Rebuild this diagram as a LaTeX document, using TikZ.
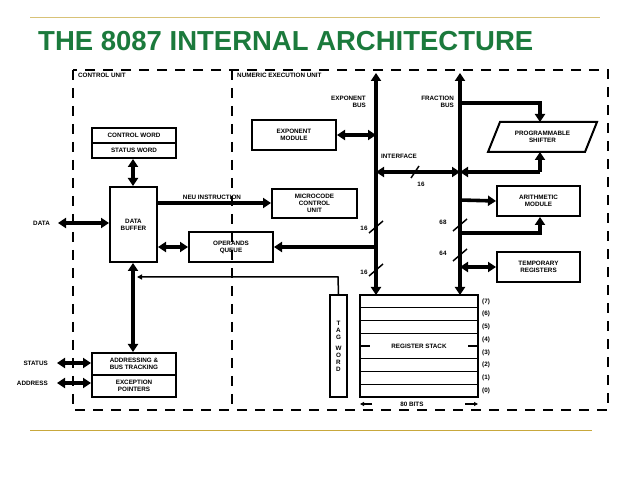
\documentclass[tikz,border=0pt]{standalone}
\usepackage{fontspec}
\setmainfont{Liberation Sans}
\usetikzlibrary{arrows.meta,shapes.geometric}
\definecolor{ttl}{HTML}{1B7A3C}
\definecolor{gold}{HTML}{C8A83C}
\begin{document}
\begin{tikzpicture}[x=1pt,y=-1pt,
  lbl/.style={font=\bfseries\fontsize{6.3}{7}\selectfont,align=center,inner sep=0pt},
  blk/.style={draw,line width=2pt,lbl},
  bus/.style={line width=3.6pt},
  thin/.style={line width=1.5pt},
  tip/.style={-{Triangle[length=8pt,width=10pt]}},
  dtip/.style={{Triangle[length=8pt,width=10pt]}-{Triangle[length=8pt,width=10pt]}},
  dsh/.style={line width=1.4pt,dash pattern=on 10pt off 8pt}]
\useasboundingbox (0,0) rectangle (638,478);
\draw[gold!70,line width=0.8pt] (30,17) -- (600,17);
\draw[gold,line width=0.8pt] (30,430) -- (592,430);
\node[anchor=west,text=ttl,font=\bfseries\fontsize{27.5}{30}\selectfont,inner sep=0pt] (title) at (38,41) {THE 8087 INTERNAL ARCHITECTURE};
% frames
\draw[dsh] (73,70) rectangle (608,410);
\draw[dsh] (232,70) -- (232,410);
\node[lbl,anchor=north west] (cu) at (78,73) {CONTROL UNIT};
\node[lbl,anchor=north west] (neu) at (237,73) {NUMERIC EXECUTION UNIT};
% blocks
\node[blk,minimum width=84pt,minimum height=15pt] (cw) at (134,135.5) {CONTROL WORD};
\node[blk,minimum width=84pt,minimum height=15pt] (sw) at (134,150.5) {STATUS WORD};
\node[blk,minimum width=47pt,minimum height=75pt] (db) at (133.5,224.5) {DATA\\BUFFER};
\node[blk,minimum width=84pt,minimum height=30pt] (em) at (294,135) {EXPONENT\\MODULE};
\node[blk,minimum width=85pt,minimum height=29pt] (mc) at (314.5,203.5) {MICROCODE\\CONTROL\\UNIT};
\node[blk,minimum width=84pt,minimum height=30pt] (oq) at (231,247) {OPERANDS\\QUEUE};
\node[blk,minimum width=17pt,minimum height=102pt] (tw) at (338.5,346) {T\\A\\G\\[4pt]W\\O\\R\\D};
\node[blk,minimum width=84pt,minimum height=22pt] (ab) at (134,364) {ADDRESSING \&\\BUS TRACKING};
\node[blk,minimum width=84pt,minimum height=22pt] (ep) at (134,386) {EXCEPTION\\POINTERS};
\draw[line width=2pt] (500,122) -- (597,122) -- (585,152) -- (488,152) -- cycle;
\node[lbl] (ps) at (542.5,137) {PROGRAMMABLE\\SHIFTER};
\node[blk,minimum width=83pt,minimum height=30pt] (am) at (538.5,201) {ARITHMETIC\\MODULE};
\node[blk,minimum width=83pt,minimum height=30pt] (tr) at (538.5,267) {TEMPORARY\\REGISTERS};
% register stack
\node[draw,line width=2pt,minimum width=118pt,minimum height=102pt,inner sep=0pt] (rs) at (419,346) {};
\foreach \i in {1,...,7}{\draw[line width=1.4pt] (360,{295+\i*12.75}) -- (478,{295+\i*12.75});}
\fill[white] (368,339) rectangle (470,353);
\node[lbl] (rst) at (419,346) {REGISTER STACK};
\draw[thin] (362,346) -- (370,346) (468,346) -- (476,346);
\foreach \i/\n in {0/7,1/6,2/5,3/4,4/3,5/2,6/1,7/0}{\node[lbl,anchor=west] (r\n) at (482,{301.4+\i*12.75}) {(\n)};}
\node[lbl] (bits) at (412,404) {80 BITS};
\coordinate (b1) at (360,404); \coordinate (b2) at (478,404);
\draw[thin,-{Triangle[length=4pt,width=4pt]}] (372,404) -- (b1);
\draw[thin,-{Triangle[length=4pt,width=4pt]}] (465,404) -- (b2);
% buses
\coordinate (et) at (376,73); \coordinate (eb) at (376,295);
\coordinate (ft) at (460,73); \coordinate (fb) at (460,295);
\draw[bus,dtip] (et) -- (eb);
\draw[bus,dtip] (ft) -- (fb);
\node[lbl,anchor=north east,align=right] (ebl) at (366,96) {EXPONENT\\BUS};
\node[lbl,anchor=north east,align=right] (fbl) at (454,96) {FRACTION\\BUS};
% connections
\draw[bus,dtip] (em.east) -- (376,135);
\draw[bus,dtip] (376,172) -- (460,172);
\node[lbl] (ifl) at (399,156) {INTERFACE};
\draw[thin] (411,178) -- (419,166); \node[lbl] (i16) at (421,184) {16};
\draw[bus,tip] (460,103) -- (540,103) -- (540,122);
\draw[bus,tip] (540,172) -- (540,152);
\draw[bus,tip] (540,172) -- (460,172);
\draw[bus,tip] (460,200) -- (am.west);
\draw[bus,tip] (460,233) -- (540,233) -- (am.south -| 540,0);
\draw[bus,dtip] (460,267) -- (tr.west);
\draw[thin] (453,231) -- (467,219); \node[lbl] (l68) at (443,222) {68};
\draw[thin] (453,261) -- (467,249); \node[lbl] (l64) at (443,253) {64};
\draw[thin] (369,233) -- (383,221); \node[lbl] (l16a) at (364,228) {16};
\draw[thin] (369,276) -- (383,264); \node[lbl] (l16b) at (364,272) {16};
\draw[bus,tip] (376,247) -- (oq.east);
\draw[bus,dtip] (oq.west) -- (db.east |- oq.west);
\draw[bus,tip] (db.east |- 0,203) -- (mc.west |- 0,203);
\node[lbl,anchor=south] (neul) at (212,200) {NEU INSTRUCTION};
\draw[bus,dtip] (sw.south -| 133,0) -- (db.north -| 133,0);
\draw[bus,dtip] (db.south -| 133,0) -- (ab.north -| 133,0);
\draw[thin,-{Triangle[length=5pt,width=5pt]}] (tw.north) -- (338,277) -- (137,277);
\coordinate (dl) at (58,223);
\draw[bus,dtip] (dl) -- (db.west |- dl);
\node[lbl,anchor=east] (datal) at (50,223) {DATA};
\coordinate (sl) at (57,363); \coordinate (al) at (57,383);
\draw[bus,dtip] (sl) -- (ab.west |- sl);
\draw[bus,dtip] (al) -- (ep.west |- al);
\node[lbl,anchor=east] (stl) at (48,363) {STATUS};
\node[lbl,anchor=east] (adl) at (48,383) {ADDRESS};
\end{tikzpicture}
\end{document}
